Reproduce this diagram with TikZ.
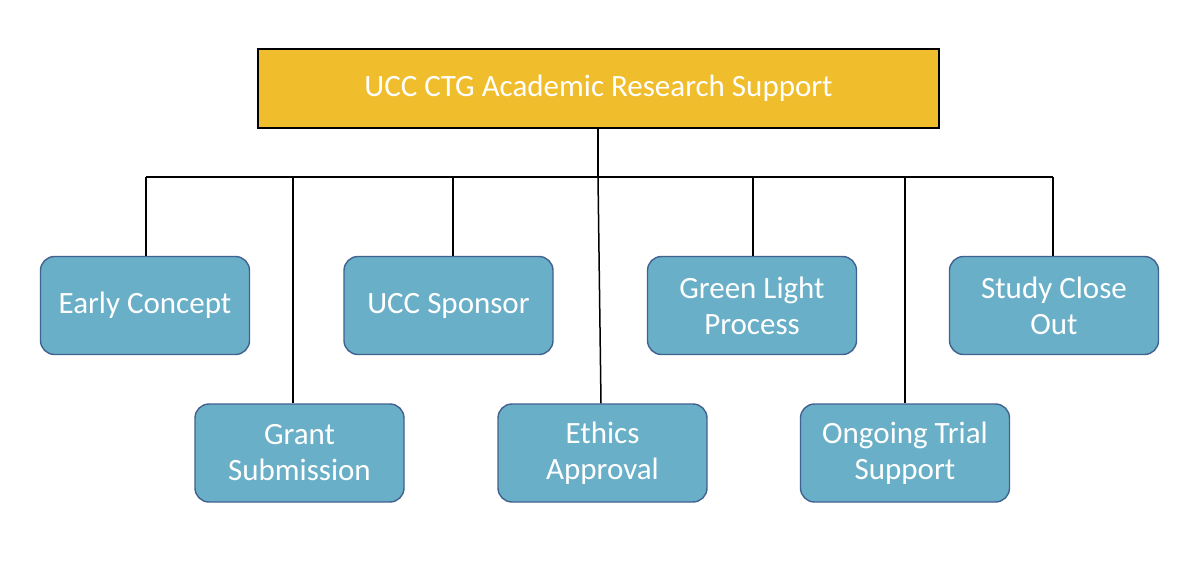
\documentclass[tikz,border=0pt]{standalone}
\usepackage{fontspec}
\setmainfont{Carlito}
\definecolor{topfill}{HTML}{F0BE2C}
\definecolor{boxfill}{HTML}{6AAFC8}
\definecolor{boxline}{HTML}{41618F}
\begin{document}
\begin{tikzpicture}[x=1pt,y=-1pt,
  topbox/.style={draw=black,line width=1.6pt,fill=topfill,minimum width=681pt,minimum height=79pt,text=white,font=\fontsize{31}{36}\selectfont},
  sub/.style={draw=boxline,line width=1.4pt,fill=boxfill,rounded corners=14pt,minimum width=209pt,minimum height=98pt,text=white,align=center,font=\fontsize{31}{36}\selectfont},
  conn/.style={draw=black,line width=1.5pt}]
\useasboundingbox (0,0) rectangle (1200,567);
\node[topbox] (top) at (598.5,88.5) {UCC CTG Academic Research Support};
\node[sub] (early) at (145,305.5) {Early Concept};
\node[sub] (grant) at (299.5,453) {Grant\\Submission};
\node[sub] (sponsor) at (448.5,305.5) {UCC Sponsor};
\node[sub] (ethics) at (602.5,453) {Ethics\\Approval};
\node[sub] (green) at (752,305.5) {Green Light\\Process};
\node[sub] (ongoing) at (905,453) {Ongoing Trial\\Support};
\node[sub] (study) at (1054,305.5) {Study Close\\Out};
\coordinate (bl) at (146,177);
\coordinate (br) at (1053,177);
\coordinate (bm) at (598,177);
\draw[conn] (bl) -- (br);
\draw[conn] (top.south -| bm) -- (bm);
\draw[conn] (bl) -- (early.north -| bl);
\draw[conn] (293,177) -- (grant.north -| 293,0);
\draw[conn] (453,177) -- (sponsor.north -| 453,0);
\draw[conn] (bm) -- (ethics.north -| 601,0);
\draw[conn] (753,177) -- (green.north -| 753,0);
\draw[conn] (905,177) -- (ongoing.north -| 905,0);
\draw[conn] (br) -- (study.north -| br);
\end{tikzpicture}
\end{document}
